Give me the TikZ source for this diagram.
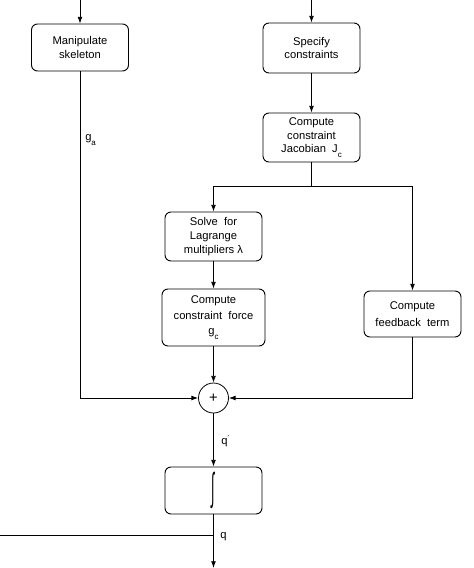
\documentclass[tikz,border=0pt]{standalone}
\usepackage{fontspec}
\setmainfont{Liberation Sans}
\usetikzlibrary{arrows.meta,calc}
\newcommand\lowsub[1]{\raisebox{-3.5pt}{\fontsize{6}{6}\selectfont #1}}
\begin{document}
\begin{tikzpicture}[x=0.75pt,y=-0.75pt,
  box/.style={draw,rounded corners=4.5pt,line width=0.7pt,align=center,
    font=\fontsize{8.4}{10.2}\selectfont,inner sep=0pt},
  arr/.style={-{Latex[length=5pt,width=3.6pt]}},
  ln/.style={line width=0.6pt},
  lbl/.style={font=\fontsize{8.4}{10}\selectfont,inner sep=0pt}]
\useasboundingbox (0,0) rectangle (474,568);
% nodes
\node[box,minimum width=72.75pt,minimum height=35.25pt] (manip) at (80,47.5) {Manipulate\\skeleton};
\node[box,minimum width=72.75pt,minimum height=37.5pt] (spec) at (311.5,48) {Specify\\constraints};
\node[box,minimum width=72.75pt,minimum height=36.75pt] (jac) at (311.5,137.5) {Compute\\constraint\\Jacobian\ \ J\lowsub{c}};
\node[box,minimum width=72.75pt,minimum height=36.75pt] (solve) at (213.5,236.5) {Solve\ \ for\\Lagrange\\multipliers\ λ};
\node[box,minimum width=77.25pt,minimum height=42.75pt,font=\fontsize{8.4}{11.5}\selectfont] (force) at (213.5,317.5) {Compute\\constraint\ \ force\\g\lowsub{c}};
\node[box,minimum width=72.75pt,minimum height=34.5pt,font=\fontsize{8.4}{12.5}\selectfont] (fb) at (412.5,314) {Compute\\feedback\ \ term};
\node[draw,circle,line width=0.6pt,minimum size=22.5pt,inner sep=0pt,font=\fontsize{11}{11}\selectfont] (sum) at (213.5,398) {+};
\node[box,minimum width=72.75pt,minimum height=35.25pt] (integ) at (213.5,490.5) {\scalebox{0.55}[1.7]{\fontsize{17}{17}\selectfont ∫}};
% coordinates
\coordinate (topA) at (80,0);
\coordinate (topB) at (311.5,0);
\coordinate (br) at (311.5,186);
\coordinate (qsplit) at (213.5,535);
\coordinate (qleft) at (0,535);
\coordinate (bottom) at (213.5,568);
% connectors
\draw[ln,arr] (topA) -- (manip);
\draw[ln,arr] (topB) -- (spec);
\draw[ln,arr] (spec) -- (jac);
\draw[ln] (jac) -- (br);
\draw[ln,arr] (br) -| (solve);
\draw[ln,arr] (br) -| (fb);
\draw[ln,arr] (solve) -- (force);
\draw[ln,arr] (force) -- (sum);
\draw[ln,arr] (manip) |- (sum);
\draw[ln,arr] (fb) |- (sum);
\draw[ln,arr] (sum) -- (integ);
\draw[ln,arr] (integ) -- (bottom);
\draw[ln] (qsplit) -- (qleft);
% labels
\node[lbl,anchor=west] (ga) at (85,140) {g\lowsub{a}};
\node[lbl,anchor=west] (qd) at (221,441) {q\raisebox{2.5pt}{\fontsize{6}{6}\selectfont ´}};
\node[lbl,anchor=west] (q) at (220,537) {q};
\end{tikzpicture}
\end{document}
